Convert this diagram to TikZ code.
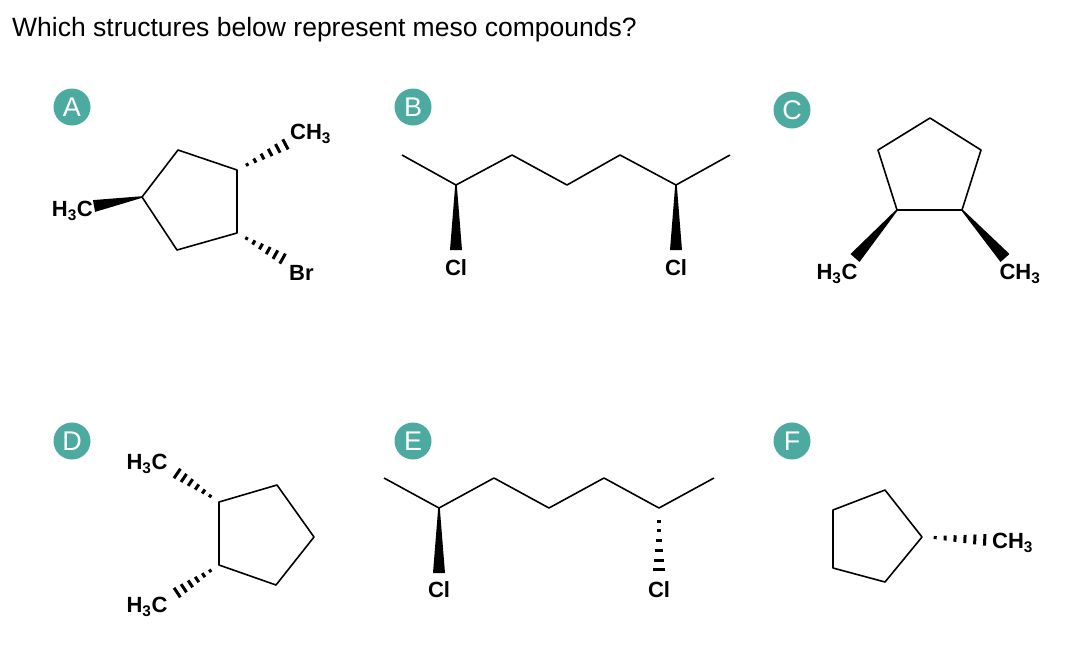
\documentclass[tikz,border=0pt]{standalone}
\usepackage{fontspec}
\setmainfont{Liberation Sans}
\usetikzlibrary{calc}
\definecolor{teal1}{RGB}{76,170,160}
\newcommand{\wdg}[2]{\fill ($(#1)!0.8pt!90:(#2)$) -- ($(#1)!0.8pt!-90:(#2)$) -- ($(#2)!6pt!90:(#1)$) -- ($(#2)!6pt!-90:(#1)$) -- cycle;}
\newcommand{\hsh}[2]{\foreach \t in {0.2,0.35,...,1.0}{\path ($(#1)!\t!(#2)$) coordinate (hp); \draw[line width=3pt] ($(hp)!{0.5pt+\t*5.5pt}!90:(#2)$) -- ($(hp)!{0.5pt+\t*5.5pt}!-90:(#2)$);}}
\tikzset{lab/.style={circle,fill=teal1,text=white,minimum size=37pt,inner sep=0pt,font=\fontsize{27}{27}\selectfont},
 bond/.style={line width=1.6pt,line join=round},
 atom/.style={font=\bfseries\fontsize{22}{22}\selectfont,inner sep=0pt}}
\begin{document}
\begin{tikzpicture}[x=1pt,y=-1pt]
\useasboundingbox (0,0) rectangle (1092,654);
\node[anchor=base west,inner sep=0pt,font=\fontsize{26.5}{26.5}\selectfont] (title) at (12,36) {Which structures below represent meso compounds?};
\node[lab] (LA) at (72,107) {A};
\node[lab] (LB) at (413,107) {B};
\node[lab] (LC) at (792,110) {C};
\node[lab] (LD) at (72,441) {D};
\node[lab] (LE) at (413,441) {E};
\node[lab] (LF) at (792,441) {F};
% A
\coordinate (a1) at (178,150); \coordinate (a2) at (237,170); \coordinate (a3) at (237,233);
\coordinate (a4) at (177,250); \coordinate (a5) at (142,197);
\draw[bond] (a1)--(a2)--(a3)--(a4)--(a5)--cycle;
\coordinate (aw) at (94,206); \wdg{a5}{aw}
\node[atom,anchor=east] (ah) at (93,211) {H\textsubscript{3}C};
\coordinate (ac) at (288,143); \hsh{a2}{ac}
\node[atom,anchor=west] (acl) at (290,134) {CH\textsubscript{3}};
\coordinate (ab) at (285,260); \hsh{a3}{ab}
\node[atom,anchor=west] (abr) at (289,273) {Br};
% B
\coordinate (b1) at (402,155); \coordinate (b2) at (456,185); \coordinate (b3) at (512,155);
\coordinate (b4) at (567,185); \coordinate (b5) at (620,155); \coordinate (b6) at (676,185); \coordinate (b7) at (730,155);
\draw[bond] (b1)--(b2)--(b3)--(b4)--(b5)--(b6)--(b7);
\coordinate (bw1) at (456,250); \wdg{b2}{bw1}
\coordinate (bw2) at (676,250); \wdg{b6}{bw2}
\node[atom] (bc1) at (456,268) {Cl};
\node[atom] (bc2) at (676,268) {Cl};
% C
\coordinate (c1) at (878,150); \coordinate (c2) at (930,118); \coordinate (c3) at (981,150);
\coordinate (c4) at (962,210); \coordinate (c5) at (897,210);
\draw[bond] (c1)--(c2)--(c3)--(c4)--(c5)--cycle;
\coordinate (cw1) at (855,258); \wdg{c5}{cw1}
\coordinate (cw2) at (1005,258); \wdg{c4}{cw2}
\node[atom] (cm1) at (837,274) {H\textsubscript{3}C};
\node[atom] (cm2) at (1020,274) {CH\textsubscript{3}};
% D
\coordinate (d1) at (219,502); \coordinate (d2) at (277,485); \coordinate (d3) at (314,537);
\coordinate (d4) at (276,585); \coordinate (d5) at (219,565);
\draw[bond] (d1)--(d2)--(d3)--(d4)--(d5)--cycle;
\coordinate (dh1) at (175,472); \hsh{d1}{dh1}
\coordinate (dh2) at (175,594); \hsh{d5}{dh2}
\node[atom] (dm1) at (147,464) {H\textsubscript{3}C};
\node[atom] (dm2) at (147,607) {H\textsubscript{3}C};
% E
\coordinate (e1) at (384,478); \coordinate (e2) at (439,508); \coordinate (e3) at (494,478);
\coordinate (e4) at (549,508); \coordinate (e5) at (604,478); \coordinate (e6) at (659,508); \coordinate (e7) at (714,478);
\draw[bond] (e1)--(e2)--(e3)--(e4)--(e5)--(e6)--(e7);
\coordinate (ew) at (439,573); \wdg{e2}{ew}
\coordinate (eh) at (659,573); \hsh{e6}{eh}
\node[atom] (ec1) at (439,590) {Cl};
\node[atom] (ec2) at (659,590) {Cl};
% F
\coordinate (f1) at (833,510); \coordinate (f2) at (885,490); \coordinate (f3) at (922,537);
\coordinate (f4) at (885,582); \coordinate (f5) at (833,568);
\draw[bond] (f1)--(f2)--(f3)--(f4)--(f5)--cycle;
\coordinate (fh) at (988,540); \hsh{f3}{fh}
\node[atom,anchor=west] (fm) at (992,543) {CH\textsubscript{3}};
\end{tikzpicture}
\end{document}
